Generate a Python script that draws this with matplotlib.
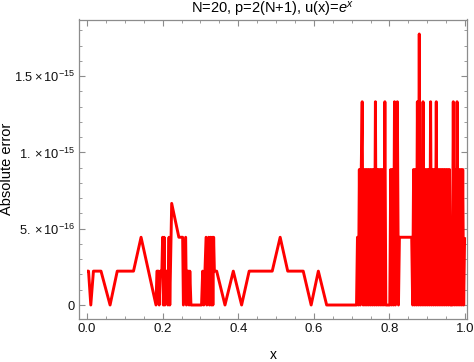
import numpy as np
import matplotlib
matplotlib.use("Agg")
import matplotlib.pyplot as plt
from matplotlib.ticker import FixedLocator, MultipleLocator

plt.rcParams['font.family'] = ['Liberation Sans', 'DejaVu Sans']
plt.rcParams['mathtext.fontset'] = 'custom'
plt.rcParams['mathtext.rm'] = 'Liberation Sans'
plt.rcParams['mathtext.it'] = 'Liberation Sans:italic'

# ---- data: x positions and absolute error (in units of 1e-16) ----
x_left = [0.0, 0.004, 0.010, 0.017, 0.037, 0.061, 0.080, 0.123, 0.143, 0.1825,
          0.185, 0.189, 0.191, 0.194, 0.198, 0.200, 0.202, 0.204, 0.206, 0.209,
          0.212, 0.214, 0.217, 0.219, 0.224, 0.243, 0.253, 0.255, 0.258, 0.261,
          0.263, 0.266, 0.268, 0.270, 0.272, 0.275, 0.303, 0.306, 0.309, 0.312,
          0.315, 0.317, 0.320, 0.322, 0.324, 0.327, 0.329, 0.331, 0.333, 0.335,
          0.337, 0.343, 0.365, 0.387, 0.409, 0.429, 0.490, 0.511, 0.531, 0.572,
          0.593, 0.612, 0.634]
err_left = [2.22, 2.22, 0.0, 2.22, 2.22, 0.0, 2.22, 2.22, 4.44, 0.0,
            2.22, 2.22, 0.0, 2.22, 2.22, 4.44, 0.0, 4.44, 0.0, 2.22,
            2.22, 0.0, 4.44, 0.0, 6.66, 4.44, 4.44, 0.0, 2.22, 4.44,
            0.0, 2.22, 2.22, 0.0, 2.22, 0.0, 0.0, 2.22, 0.0, 2.22,
            4.44, 0.0, 2.22, 4.44, 0.0, 4.44, 0.0, 4.44, 0.0, 4.44,
            2.22, 2.22, 0.0, 2.22, 0.0, 2.22, 2.22, 4.44, 2.22, 2.22,
            0.0, 2.22, 0.0]

x_block1 = [0.713, 0.7155, 0.718, 0.7205, 0.723, 0.7255, 0.728, 0.7305, 0.733, 0.7355,
            0.738, 0.7405, 0.743, 0.7455, 0.748, 0.7505, 0.753, 0.7555, 0.758, 0.7605,
            0.763, 0.7655, 0.768, 0.7705, 0.773, 0.7755, 0.778, 0.7805, 0.783, 0.7855,
            0.788, 0.7905, 0.792, 0.801, 0.8035, 0.806, 0.8085, 0.811, 0.8135, 0.816,
            0.8185, 0.821, 0.824, 0.8265]
err_block1 = [0.0, 4.44, 0.0, 8.88, 0.0, 8.88, 13.32, 0.0, 8.88, 0.0,
              8.88, 0.0, 8.88, 0.0, 8.88, 0.0, 8.88, 0.0, 8.88, 0.0,
              13.32, 0.0, 8.88, 0.0, 8.88, 0.0, 8.88, 0.0, 8.88, 0.0,
              13.32, 0.0, 0.0, 0.0, 8.88, 0.0, 8.88, 0.0, 13.32, 0.0,
              8.88, 13.32, 0.0, 4.44]

x_block2 = [0.859, 0.8615, 0.864, 0.8665, 0.869, 0.8715, 0.874, 0.8765, 0.879, 0.8815,
            0.884, 0.8865, 0.889, 0.8915, 0.894, 0.8965, 0.899, 0.9015, 0.904, 0.9065,
            0.909, 0.9115, 0.914, 0.9165, 0.919, 0.9215, 0.924, 0.9265, 0.929, 0.9315,
            0.934, 0.9365, 0.939, 0.9415, 0.944, 0.9465, 0.949, 0.9515, 0.954, 0.9565,
            0.959, 0.9615, 0.9665, 0.969, 0.9715, 0.974, 0.9765, 0.979, 0.9815, 0.984,
            0.9865, 0.989, 0.9915, 0.994, 0.9965, 0.999]
err_block2 = [4.44, 0.0, 8.88, 0.0, 8.88, 0.0, 13.32, 0.0, 17.76, 0.0,
              8.88, 0.0, 13.32, 0.0, 8.88, 0.0, 8.88, 0.0, 8.88, 0.0,
              13.32, 0.0, 8.88, 0.0, 8.88, 0.0, 13.32, 0.0, 8.88, 0.0,
              8.88, 0.0, 8.88, 0.0, 8.88, 0.0, 8.88, 0.0, 8.88, 0.0,
              8.88, 0.0, 0.0, 13.32, 0.0, 8.88, 0.0, 13.32, 0.0, 8.88,
              0.0, 8.88, 0.0, 8.88, 0.0, 4.44]

x_vals = np.array(x_left + x_block1 + x_block2)
err_vals = np.array(err_left + err_block1 + err_block2) * 1e-16

y_ticks = [0.0, 5e-16, 1e-15, 1.5e-15]
y_tick_labels = ["0", r"$5.\times10^{-16}$", r"$1.\times10^{-15}$", r"$1.5\times10^{-15}$"]
x_ticks = [0.0, 0.2, 0.4, 0.6, 0.8, 1.0]
x_tick_labels = ["0.0", "0.2", "0.4", "0.6", "0.8", "1.0"]

# ---- figure ----
fig = plt.figure(figsize=(4.74, 3.62), dpi=100)
ax = fig.add_axes([79/474, 1 - 319/362, (467 - 79)/474, (319 - 19.5)/362])

ax.plot(x_vals, err_vals, color='#ff0000', lw=2.1,
        solid_joinstyle='round', solid_capstyle='butt')

ax.set_xlim(-0.0212, 1.0053)
ax.set_ylim(-0.0917e-15, 1.871e-15)

ax.xaxis.set_major_locator(FixedLocator(x_ticks))
ax.set_xticklabels(x_tick_labels)
ax.xaxis.set_minor_locator(MultipleLocator(0.05))
ax.yaxis.set_major_locator(FixedLocator(y_ticks))
ax.set_yticklabels(y_tick_labels)
ax.yaxis.set_minor_locator(MultipleLocator(1e-16))

frame_col = '#8c8c8c'
for s in ax.spines.values():
    s.set_color(frame_col)
    s.set_linewidth(0.9)
ax.tick_params(which='both', direction='in', top=True, right=True,
               color=frame_col, labelcolor='#111111')
ax.tick_params(axis='x', labelsize=9.5)
ax.tick_params(axis='y', labelsize=9.3)
ax.tick_params(which='major', length=4.5, width=0.8, pad=3)
ax.tick_params(which='minor', length=2.5, width=0.6)

ax.set_title(r"N=20, p=2(N+1), u(x)=$\mathit{e}^{\mathit{x}}$", fontsize=10.5, pad=3)
ax.set_xlabel("x", fontsize=10, labelpad=9)
ax.set_ylabel("Absolute error", fontsize=10.5)
ax.yaxis.set_label_coords((14 - 79) / 388, 0.5)

fig.savefig("out.png", dpi=100)
